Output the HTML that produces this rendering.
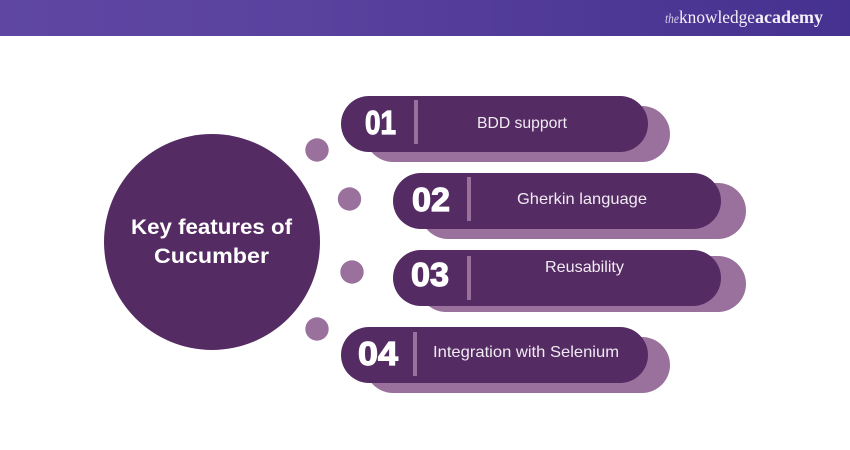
<!DOCTYPE html>
<html><head><meta charset="utf-8"><style>
html,body{margin:0;padding:0;background:#fff}
svg{display:block}
text{font-family:"Liberation Sans",sans-serif}
.s{font-family:"Liberation Serif",serif}
</style></head><body>
<svg width="850" height="450" viewBox="0 0 850 450" xmlns="http://www.w3.org/2000/svg">
<defs><linearGradient id="g" x1="0" x2="1" y1="0" y2="0"><stop offset="0" stop-color="#5f46a3"/><stop offset="0.35" stop-color="#5a429f"/><stop offset="1" stop-color="#45318f"/></linearGradient></defs>
<rect width="850" height="450" fill="#fff"/>
<rect width="850" height="36" fill="url(#g)"/>
<text class="s" x="665" y="23" font-size="14" font-style="italic" fill="#d8d0ea" textLength="14" lengthAdjust="spacingAndGlyphs">the</text>
<text class="s" x="679" y="23" font-size="18" fill="#f3f0f8" textLength="76" lengthAdjust="spacingAndGlyphs">knowledge</text>
<text class="s" x="755" y="23" font-size="18" font-weight="bold" fill="#f3f0f8" textLength="68" lengthAdjust="spacingAndGlyphs">academy</text>

<circle cx="212" cy="242" r="108" fill="#552b63"/>
<text x="131" y="234" font-size="21" font-weight="bold" fill="#fff" textLength="161" lengthAdjust="spacingAndGlyphs">Key features of</text>
<text x="154" y="263" font-size="21" font-weight="bold" fill="#fff" textLength="115" lengthAdjust="spacingAndGlyphs">Cucumber</text>

<g fill="#9a719d">
<circle cx="317" cy="150" r="11.7"/><circle cx="349.5" cy="199" r="11.7"/><circle cx="352" cy="272" r="11.7"/><circle cx="317" cy="329" r="11.7"/>
<rect x="365" y="106" width="305" height="56" rx="28"/>
<rect x="420" y="183" width="326" height="56" rx="28"/>
<rect x="418" y="256" width="328" height="56" rx="28"/>
<rect x="365" y="337" width="305" height="56" rx="28"/>
</g>
<g fill="#552b63">
<rect x="341" y="96" width="307" height="56" rx="28"/>
<rect x="393" y="173" width="328" height="56" rx="28"/>
<rect x="393" y="250" width="328" height="56" rx="28"/>
<rect x="341" y="327" width="307" height="56" rx="28"/>
</g>
<g fill="#9a719d">
<rect x="414" y="100" width="4" height="44"/>
<rect x="467" y="177" width="4" height="44"/>
<rect x="467" y="256" width="4" height="44"/>
<rect x="413" y="332" width="4" height="44"/>
</g>
<g font-size="33" font-weight="bold" fill="#fff" stroke="#fff" stroke-width="1.2">
<text x="365" y="134" textLength="31" lengthAdjust="spacingAndGlyphs">01</text>
<text x="412" y="211" textLength="38" lengthAdjust="spacingAndGlyphs">02</text>
<text x="411" y="286" textLength="38" lengthAdjust="spacingAndGlyphs">03</text>
<text x="358" y="365" textLength="40" lengthAdjust="spacingAndGlyphs">04</text>
</g>
<g font-size="16" fill="#f1ebf3">
<text x="477" y="128" textLength="90" lengthAdjust="spacingAndGlyphs">BDD support</text>
<text x="517" y="204" textLength="130" lengthAdjust="spacingAndGlyphs">Gherkin language</text>
<text x="545" y="272" textLength="79" lengthAdjust="spacingAndGlyphs">Reusability</text>
<text x="433" y="357" textLength="186" lengthAdjust="spacingAndGlyphs">Integration with Selenium</text>
</g>
</svg>
</body></html>
